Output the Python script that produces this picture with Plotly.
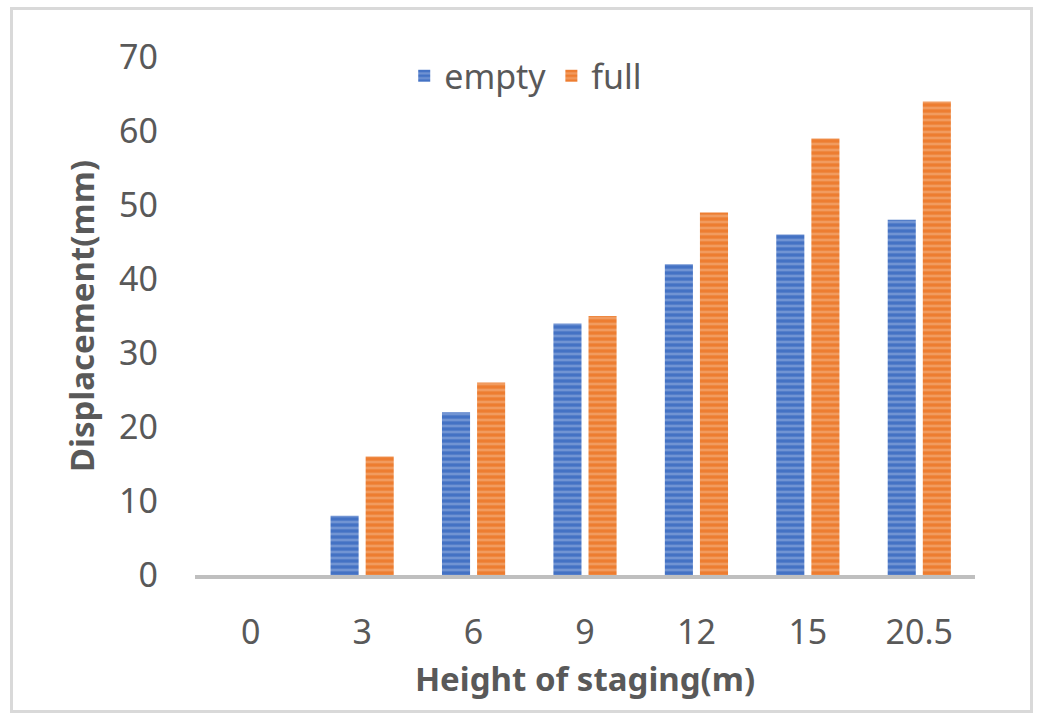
import plotly.graph_objects as go

categories = ["0", "3", "6", "9", "12", "15", "20.5"]
empty_vals = [0, 8, 22, 34, 42, 46, 48]
full_vals = [0, 16, 26, 35, 49, 59, 64]
y_ticks = [0, 10, 20, 30, 40, 50, 60, 70]

FONT = "Noto Sans"
GRAY = "#595959"

fig = go.Figure()
fig.add_trace(go.Bar(
    x=categories, y=empty_vals, name="empty",
    marker=dict(color="#4472C4", line=dict(width=0),
                pattern=dict(shape="-", fgcolor="#9DB5E2", bgcolor="#4472C4",
                             size=6, solidity=0.45)),
))
fig.add_trace(go.Bar(
    x=categories, y=full_vals, name="full",
    marker=dict(color="#ED7D31", line=dict(width=0),
                pattern=dict(shape="-", fgcolor="#F6B98E", bgcolor="#ED7D31",
                             size=6, solidity=0.45)),
))

fig.update_layout(
    width=1058, height=719,
    margin=dict(l=195, r=83, t=57, b=144),
    paper_bgcolor="white", plot_bgcolor="white",
    font=dict(family=FONT, color=GRAY),
    barmode="group", bargap=0.37, bargroupgap=0.2,
    showlegend=True,
    legend=dict(orientation="h", x=0.424, y=0.963, xanchor="center", yanchor="middle",
                font=dict(size=34, color=GRAY), bgcolor="rgba(0,0,0,0)",
                itemwidth=30, tracegroupgap=0),
    xaxis=dict(type="category", showline=True, linecolor="#BFBFBF", linewidth=4,
               showgrid=False, ticks="", tickfont=dict(size=34, color=GRAY),
               ticklabelstandoff=24,
               title=dict(text="<b>Height of staging(m)</b>", font=dict(size=33, color=GRAY),
                          standoff=16)),
    yaxis=dict(range=[0, 70], tickvals=y_ticks, showline=False, showgrid=False,
               zeroline=False, ticks="", tickfont=dict(size=34, color=GRAY),
               ticklabelstandoff=36,
               title=dict(text="<b>Displacement(mm)</b>", font=dict(size=33, color=GRAY),
                          standoff=14)),
    shapes=[dict(type="rect", xref="paper", yref="paper",
                 x0=(11.5 - 195) / 780, x1=(1031.5 - 195) / 780,
                 y0=(575 - 711.5) / 518, y1=(575 - 8.5) / 518,
                 line=dict(color="#D9D9D9", width=3), fillcolor="rgba(0,0,0,0)", layer="below")],
)

fig.write_html("out.html")
